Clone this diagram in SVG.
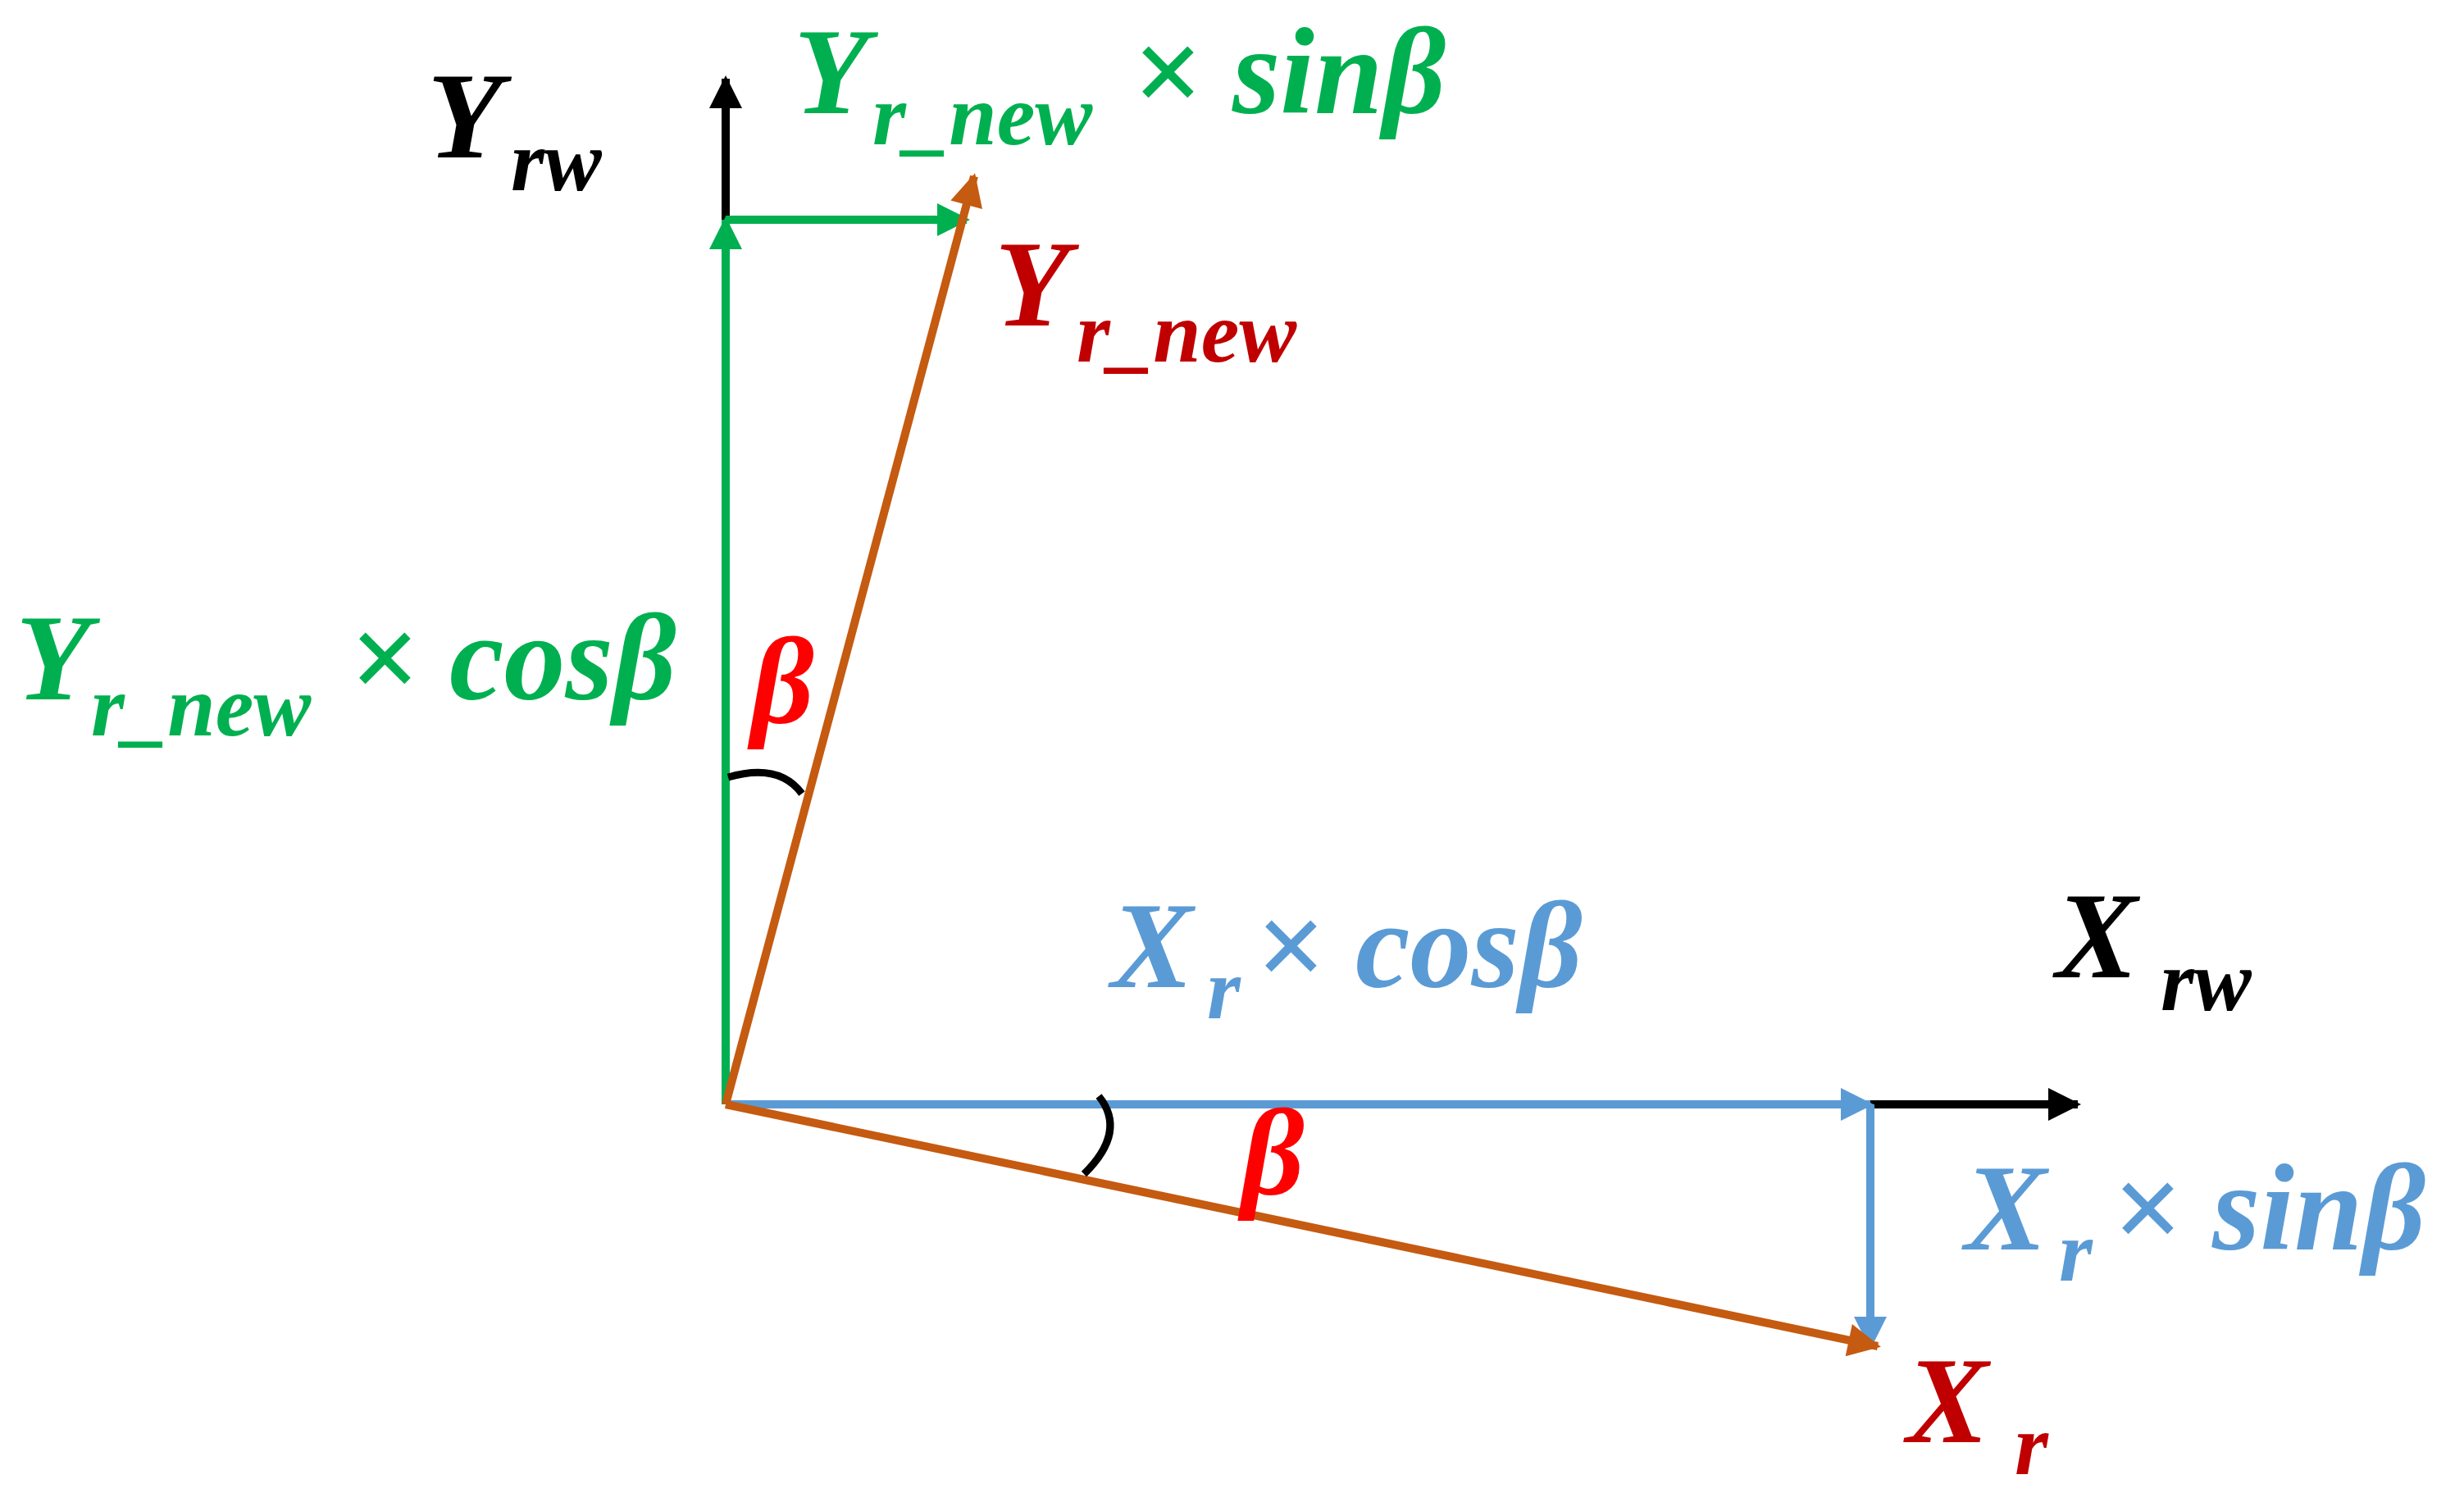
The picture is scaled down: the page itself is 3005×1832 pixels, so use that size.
<svg xmlns="http://www.w3.org/2000/svg" width="3005" height="1832" viewBox="0 0 3005 1832">
<style>
text{font-family:"Liberation Serif",serif;font-weight:bold;font-style:italic}
.m{font-size:150px}.s{font-size:105px}
.k{fill:#000}.g{fill:#00b050}.b{fill:#5b9bd5}.r{fill:#c00000}.rb{fill:#ff0000}
</style>
<defs>
<marker id="ak" viewBox="0 0 10 10" refX="9" refY="5" markerWidth="5" markerHeight="4" orient="auto" markerUnits="strokeWidth"><path d="M0,0L10,5L0,10z" fill="#000"/></marker>
<marker id="ag" viewBox="0 0 10 10" refX="9" refY="5" markerWidth="5" markerHeight="4" orient="auto" markerUnits="strokeWidth"><path d="M0,0L10,5L0,10z" fill="#00b050"/></marker>
<marker id="ab" viewBox="0 0 10 10" refX="9" refY="5" markerWidth="5" markerHeight="4" orient="auto" markerUnits="strokeWidth"><path d="M0,0L10,5L0,10z" fill="#5b9bd5"/></marker>
<marker id="ao" viewBox="0 0 10 10" refX="9" refY="5" markerWidth="5" markerHeight="4" orient="auto" markerUnits="strokeWidth"><path d="M0,0L10,5L0,10z" fill="#c55a11"/></marker>
</defs>
<rect width="3005" height="1832" fill="#fff"/>
<g id="connectors" fill="none" stroke-width="10">
<line x1="885" y1="268" x2="885" y2="96" stroke="#000" marker-end="url(#ak)"/>
<line x1="2281" y1="1347" x2="2534" y2="1347" stroke="#000" marker-end="url(#ak)"/>
<line x1="885" y1="1347" x2="885" y2="268" stroke="#00b050" marker-end="url(#ag)"/>
<line x1="885" y1="268" x2="1179" y2="268" stroke="#00b050" marker-end="url(#ag)"/>
<line x1="885" y1="1347" x2="2281" y2="1347" stroke="#5b9bd5" marker-end="url(#ab)"/>
<line x1="2281" y1="1347" x2="2281" y2="1642" stroke="#5b9bd5" marker-end="url(#ab)"/>
<line x1="885" y1="1347" x2="1188" y2="215" stroke="#c55a11" marker-end="url(#ao)"/>
<line x1="885" y1="1347" x2="2290" y2="1642" stroke="#c55a11" marker-end="url(#ao)"/>
<path d="M888,948 Q950,930 978,968" stroke="#000" stroke-width="9"/>
<path d="M1340,1337 Q1375,1380 1322,1432" stroke="#000" stroke-width="9"/>
</g>
<g id="label-yrw"><text class="m k" x="521" y="192">Y</text><text class="s k" x="623" y="232">rw</text></g>
<g id="label-ysin"><text class="m g" x="968" y="138">Y</text><text class="s g" x="1064" y="176">r_new</text><text class="m g" x="1380" y="138">× sinβ</text></g>
<g id="label-ynew"><text class="m r" x="1213" y="397">Y</text><text class="s r" x="1313" y="441">r_new</text></g>
<g id="label-ycos"><text class="m g" x="19" y="853">Y</text><text class="s g" x="111" y="897">r_new</text><text class="m g" x="425" y="853">× cosβ</text></g>
<g id="label-beta1"><text class="m rb" x="916" y="882">β</text></g>
<g id="label-beta2"><text class="m rb" x="1514" y="1457">β</text></g>
<g id="label-xcos"><text class="m b" x="1355" y="1204">X</text><text class="s b" x="1472" y="1242">r</text><text class="m b" x="1530" y="1204">× cosβ</text></g>
<g id="label-xrw"><text class="m k" x="2507" y="1192">X</text><text class="s k" x="2635" y="1232">rw</text></g>
<g id="label-xsin"><text class="m b" x="2396" y="1524">X</text><text class="s b" x="2511" y="1562">r</text><text class="m b" x="2575" y="1524">× sinβ</text></g>
<g id="label-xr"><text class="m r" x="2325" y="1759">X</text><text class="s r" x="2457" y="1798">r</text></g>
</svg>
